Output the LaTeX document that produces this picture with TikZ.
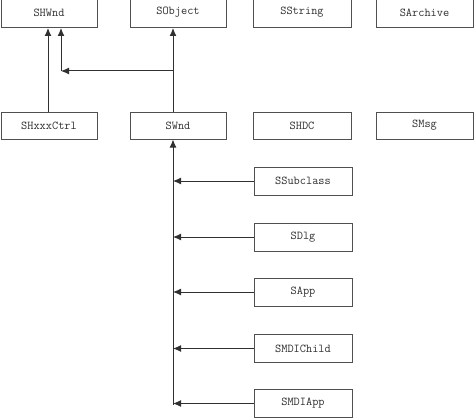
\documentclass[tikz,border=0pt]{standalone}
\usepackage{fontspec}
\usetikzlibrary{arrows.meta}
\definecolor{edge}{HTML}{505050}
\definecolor{ink}{HTML}{303030}
\tikzset{
  cls/.style={draw=edge, line width=1pt, fill=white, rectangle, inner sep=0pt,
    text=ink, font=\ttfamily\fontsize{12}{14}\selectfont},
  toprow/.style={cls, minimum height=30pt},
  wideA/.style={cls, minimum width=96pt, minimum height=27pt},
  wideB/.style={cls, minimum width=98pt, minimum height=28pt},
  arr/.style={draw=ink, line width=1pt, -{Latex[length=8pt,width=7pt]}},
}
\begin{document}
\begin{tikzpicture}[x=1pt,y=-1pt]
\useasboundingbox (0,0) rectangle (474,420);
% top row
\node[toprow, minimum width=96pt] (SHWnd) at (49,12.5) {\raisebox{-3pt}{SHWnd}};
\node[toprow, minimum width=96pt] (SObject) at (178,12.5) {\raisebox{-3pt}{SObject}};
\node[toprow, minimum width=98pt] (SString) at (302,12.5) {\raisebox{-3pt}{SString}};
\node[toprow, minimum width=97pt] (SArchive) at (424.5,12.5) {\raisebox{-3pt}{SArchive}};
% second row
\node[wideA] (SHxxxCtrl) at (49,125.5) {SHxxxCtrl};
\node[wideA] (SWnd) at (178,125.5) {SWnd};
\node[cls, minimum width=98pt, minimum height=27pt] (SHDC) at (302,125.5) {SHDC};
\node[cls, minimum width=97pt, minimum height=27pt] (SMsg) at (424.5,125.5) {SMsg};
% right column
\node[wideB] (SSubclass) at (303,181) {SSubclass};
\node[wideB] (SDlg) at (303,237) {SDlg};
\node[wideB] (SApp) at (303,292) {SApp};
\node[wideB] (SMDIChild) at (303,348.5) {SMDIChild};
\node[wideB] (SMDIApp) at (303,403.5) {SMDIApp};
% coordinates
\coordinate (t) at (173,405);
\coordinate (j) at (173,71);
\coordinate (k) at (61,71);
\coordinate (h) at (48,0);
% connectors
\draw[draw=ink, line width=1pt] (SMDIApp.west -| t) -- (t);
\draw[arr] (t) -- (t |- SWnd.south);
\draw[arr] (SSubclass.west) -- (SSubclass.west -| t);
\draw[arr] (SDlg.west) -- (SDlg.west -| t);
\draw[arr] (SApp.west) -- (SApp.west -| t);
\draw[arr] (SMDIChild.west) -- (SMDIChild.west -| t);
\draw[arr] (SMDIApp.west) -- (SMDIApp.west -| t);
\draw[arr] (SWnd.north -| t) -- (SObject.south -| t);
\draw[arr] (j) -- (k);
\draw[arr] (k) -- (k |- SHWnd.south);
\draw[arr] (SHxxxCtrl.north -| h) -- (SHWnd.south -| h);
\end{tikzpicture}
\end{document}
